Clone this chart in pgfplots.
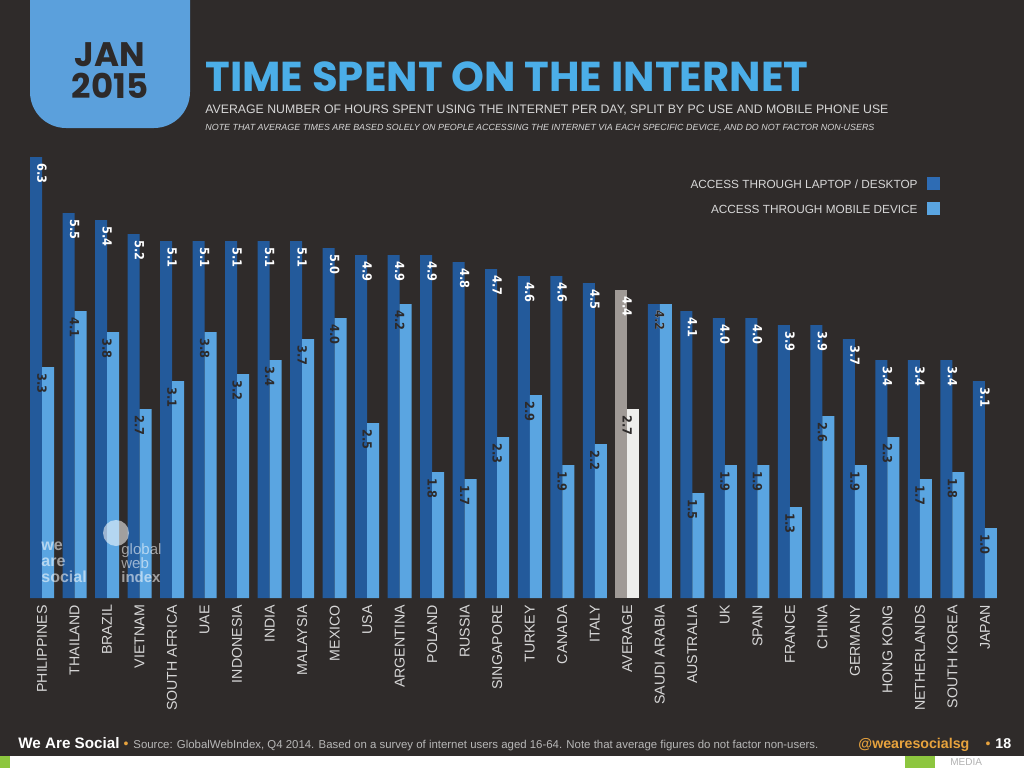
\documentclass[border=0pt]{standalone}
\usepackage{fontspec}
\setmainfont{Liberation Sans}
\newfontfamily\poppins{Poppins}
\newfontfamily\cond{DejaVu Sans Condensed}
\usepackage{graphicx}
\usepackage{pgfplots}
\pgfplotsset{compat=1.18}
\usepackage{pgfplotstable}

\definecolor{bg}{RGB}{47,43,42}
\definecolor{laptop}{RGB}{35,90,155}
\definecolor{mobile}{RGB}{90,165,225}
\definecolor{legdark}{RGB}{46,108,180}
\definecolor{avgdark}{RGB}{160,154,150}
\definecolor{avglight}{RGB}{238,238,236}
\definecolor{boxblue}{RGB}{91,160,220}
\definecolor{titleblue}{RGB}{75,174,232}
\definecolor{lgray}{RGB}{215,215,215}
\definecolor{darktxt}{RGB}{45,42,42}
\definecolor{orng}{RGB}{232,163,61}
\definecolor{leaf}{RGB}{141,198,63}

% hours per day, average row kept apart (drawn in grey)
\pgfplotstableread{
x laptop mobile
0 6.3 3.3
1 5.5 4.1
2 5.4 3.8
3 5.2 2.7
4 5.1 3.1
5 5.1 3.8
6 5.1 3.2
7 5.1 3.4
8 5.1 3.7
9 5.0 4.0
10 4.9 2.5
11 4.9 4.2
12 4.9 1.8
13 4.8 1.7
14 4.7 2.3
15 4.6 2.9
16 4.6 1.9
17 4.5 2.2
19 4.2 4.2
20 4.1 1.5
21 4.0 1.9
22 4.0 1.9
23 3.9 1.3
24 3.9 2.6
25 3.7 1.9
26 3.4 2.3
27 3.4 1.7
28 3.4 1.8
29 3.1 1.0
}\countries
\pgfplotstableread{
x laptop mobile
18 4.4 2.7
}\average

\pgfplotsset{
  vals/.style={nodes near coords={\pgfmathprintnumber[fixed,fixed zerofill,precision=1,assume math mode=true]{\pgfplotspointmeta}},
    every node near coord/.append style={rotate=-90, anchor=west, inner sep=3pt,
      font=\cond\bfseries\fontsize{6.3}{7}\selectfont, text=#1}},
}

\begin{document}
\begin{tikzpicture}
\begin{scope}[yshift=384pt, x=0.5pt, y=-0.5pt]
  \useasboundingbox (0,0) rectangle (1024,768);
  \fill[bg] (0,0) rectangle (1024,768);
  \fill[white] (0,756) rectangle (1024,768);
  \fill[leaf] (0,756) rectangle (10,768);
  \fill[leaf] (905,756) rectangle (935,768);
  \node[anchor=west, text=gray!60, font=\fontsize{5}{6}\selectfont, inner sep=0] at (950,762) {MEDIA};
  \begin{scope}
    \clip (0,0) rectangle (1024,768);
    \fill[boxblue, rounded corners=18pt] (30,-60) rectangle (190,128);
  \end{scope}
  \node[font=\poppins\bfseries\fontsize{17}{18}\selectfont, text=darktxt, anchor=base, inner sep=0] at (110,66) {JAN};
  \node[font=\poppins\bfseries\fontsize{17}{18}\selectfont, text=darktxt, anchor=base, inner sep=0] at (110,99) {2015};
  \node[anchor=base west, inner sep=0, text=titleblue] at (205,91)
    {\resizebox{301.5pt}{!}{\poppins\bfseries\fontsize{21}{22}\selectfont TIME SPENT ON THE INTERNET}};
  \node[anchor=base west, inner sep=0, text=lgray] at (205,113)
    {\resizebox{341.5pt}{!}{\fontsize{7}{8}\selectfont AVERAGE NUMBER OF HOURS SPENT USING THE INTERNET PER DAY, SPLIT BY PC USE AND MOBILE PHONE USE}};
  \node[anchor=base west, inner sep=0, text=lgray] at (205,130)
    {\resizebox{334.5pt}{!}{\itshape\fontsize{5}{6}\selectfont NOTE THAT AVERAGE TIMES ARE BASED SOLELY ON PEOPLE ACCESSING THE INTERNET VIA EACH SPECIFIC DEVICE, AND DO NOT FACTOR NON-USERS}};
  % legend
  \node[anchor=east, inner sep=0, text=lgray, font=\fontsize{5.9}{7}\selectfont] at (918,184) {ACCESS THROUGH LAPTOP / DESKTOP};
  \fill[legdark] (927,177) rectangle (940,190);
  \node[anchor=east, inner sep=0, text=lgray, font=\fontsize{5.9}{7}\selectfont] at (918,209) {ACCESS THROUGH MOBILE DEVICE};
  \fill[mobile] (927,202) rectangle (940,215);
  % footer
  \node[anchor=base west, inner sep=0, text=white, font=\bfseries\fontsize{7.6}{9}\selectfont] at (18,748) {We Are Social};
  \node[anchor=base, inner sep=0, text=orng, font=\fontsize{7}{8}\selectfont] at (126,748) {•};
  \node[anchor=base west, inner sep=0, text=lgray!85!black] at (133,748)
    {\resizebox{342.5pt}{!}{\fontsize{5.5}{6}\selectfont Source: GlobalWebIndex, Q4 2014. Based on a survey of internet users aged 16-64. Note that average figures do not factor non-users.}};
  \node[anchor=base west, inner sep=0, text=orng, font=\bfseries\fontsize{7.1}{9}\selectfont] at (858,748) {@wearesocialsg};
  \node[anchor=base, inner sep=0, text=orng, font=\fontsize{7}{8}\selectfont] at (988,748) {•};
  \node[anchor=base west, inner sep=0, text=white, font=\bfseries\fontsize{7.1}{9}\selectfont] at (995,748) {18};
\end{scope}

\begin{axis}[at={(12.875pt,85pt)}, anchor=south west, scale only axis,
  width=487.75pt, height=220.5pt,
  xmin=-0.5, xmax=29.5, ymin=0, ymax=6.3, clip=false,
  axis line style={draw=none}, tick style={draw=none}, major tick length=0pt,
  ytick=\empty, xtick={0,...,29},
  xticklabels={PHILIPPINES,THAILAND,BRAZIL,VIETNAM,SOUTH AFRICA,UAE,INDONESIA,INDIA,MALAYSIA,MEXICO,USA,ARGENTINA,POLAND,RUSSIA,SINGAPORE,TURKEY,CANADA,ITALY,AVERAGE,SAUDI ARABIA,AUSTRALIA,UK,SPAIN,FRANCE,CHINA,GERMANY,HONG KONG,NETHERLANDS,SOUTH KOREA,JAPAN},
  xticklabel style={rotate=90, anchor=east, text=lgray, font=\fontsize{7.1}{8}\selectfont},
]
\addplot[ybar, bar width=6pt, bar shift=-3pt, fill=laptop, draw=none, vals=white] table[x=x, y=laptop] {\countries};
\addplot[ybar, bar width=6pt, bar shift=3pt, fill=mobile, draw=none, vals=darktxt] table[x=x, y=mobile] {\countries};
\addplot[ybar, bar width=6pt, bar shift=-3pt, fill=avgdark, draw=none, vals=white] table[x=x, y=laptop] {\average};
\addplot[ybar, bar width=6pt, bar shift=3pt, fill=avglight, draw=none, vals=darktxt] table[x=x, y=mobile] {\average};
\end{axis}

% watermark logos over the first bars
\begin{scope}[yshift=384pt, x=0.5pt, y=-0.5pt]
  \begin{scope}[opacity=0.55]
    \node[anchor=base west, inner sep=0, text=white, font=\bfseries\fontsize{8}{8}\selectfont] at (41,550) {we};
    \node[anchor=base west, inner sep=0, text=white, font=\bfseries\fontsize{8}{8}\selectfont] at (41,566) {are};
    \node[anchor=base west, inner sep=0, text=white, font=\bfseries\fontsize{8}{8}\selectfont] at (41,582) {social};
    \fill[white] (116,533) circle (13);
    \node[anchor=base west, inner sep=0, text=white, font=\fontsize{7.5}{8}\selectfont] at (121,554) {global};
    \node[anchor=base west, inner sep=0, text=white, font=\fontsize{7.5}{8}\selectfont] at (121,568) {web};
    \node[anchor=base west, inner sep=0, text=white, font=\bfseries\fontsize{7.5}{8}\selectfont] at (121,582) {index};
  \end{scope}
\end{scope}
\end{tikzpicture}
\end{document}
